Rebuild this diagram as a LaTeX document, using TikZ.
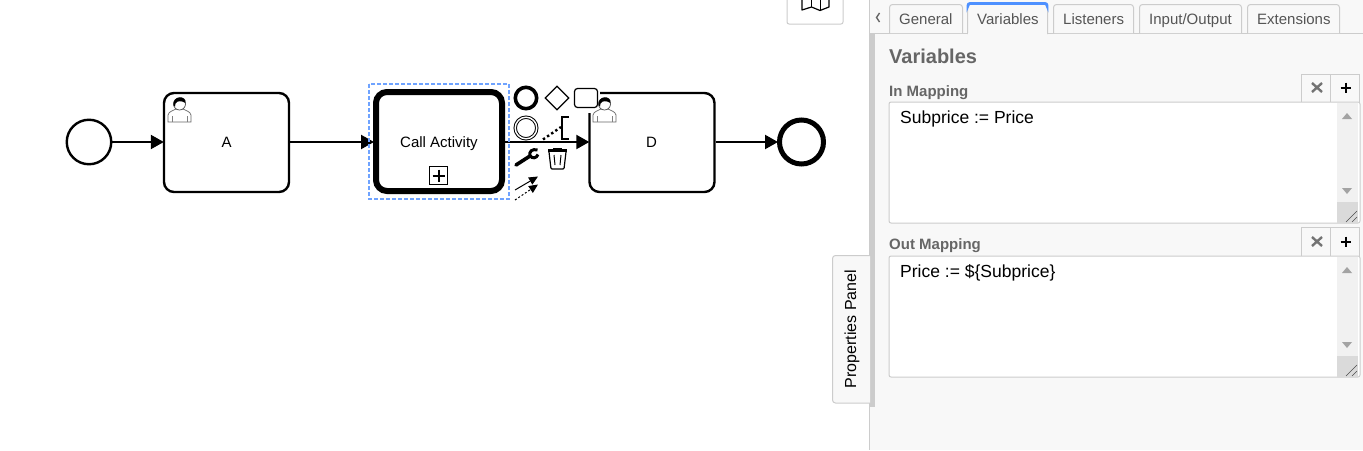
\documentclass[tikz,border=0pt]{standalone}
\usepackage{fontspec}
\setmainfont{Liberation Sans}
\usetikzlibrary{arrows.meta,shapes.geometric}
\definecolor{panelbg}{HTML}{F8F8F8}
\definecolor{panelline}{HTML}{CCCCCC}
\definecolor{tabtext}{HTML}{555555}
\definecolor{headtext}{HTML}{666666}
\definecolor{selblue}{HTML}{6FA3FF}
\definecolor{tabblue}{HTML}{4D90FF}
\definecolor{scrollbg}{HTML}{F1F1F1}
\definecolor{gripbg}{HTML}{DADADA}
\definecolor{arrowgray}{HTML}{A3A3A3}
\newcommand{\fsz}[1]{\fontsize{#1}{#1}\selectfont}
\tikzset{
  event/.style={circle,draw=black,fill=white,line width=2.4pt,minimum size=44.5pt,inner sep=0pt},
  endevent/.style={circle,draw=black,fill=white,line width=5pt,minimum size=44pt,inner sep=0pt},
  taskbox/.style={rectangle,rounded corners=10pt,draw=black,fill=white,line width=2.4pt,minimum width=125pt,minimum height=99pt,inner sep=0pt},
  callbox/.style={taskbox,line width=6pt,minimum width=126pt,minimum height=99pt,rounded corners=11pt},
  flow/.style={line width=2.2pt,draw=black,-{Triangle[length=13pt,width=14pt]},shorten >=-1pt},
  tasklabel/.style={anchor=base,inner sep=0pt,text=black,font=\fsz{15}},
  tabbox/.style={draw=panelline,fill=panelbg,line width=1pt,rounded corners=3pt},
  tablabel/.style={anchor=base west,inner sep=0pt,text=tabtext,font=\fsz{15}},
  fieldhead/.style={anchor=base west,inner sep=0pt,text=headtext,font=\bfseries\fsz{15}},
  fieldtext/.style={anchor=base west,inner sep=0pt,text=black,font=\fsz{17.5}},
  fieldbox/.style={rectangle,draw=panelline,fill=white,line width=1pt,rounded corners=2pt,minimum width=471pt,minimum height=121pt,inner sep=0pt},
  usericon/.pic={
    \draw[line width=.7pt,draw=black!60,fill=white] (0,25) -- (0,18) .. controls (1,14) and (5,14) .. (8,12) -- (15,12) .. controls (18,14) and (22,14) .. (23,18) -- (23,25) -- cycle;
    \draw[line width=.6pt,draw=black!50] (4,19) -- (4,25) (19,19) -- (19,25);
    \draw[line width=.7pt,draw=black!70,fill=white] (11.5,7) circle[radius=6pt];
    \fill[black] (5.5,8.5) .. controls (4,-2) and (19,-2) .. (17.5,6) .. controls (14,3.5) and (9,3.5) .. (7.5,6.5) -- (7,9.5) -- cycle;
  },
  scrollpart/.pic={
    \fill[scrollbg] (0,0) rectangle (21,120);
    \fill[arrowgray] (5,16) -- (15,16) -- (10,10) -- cycle;
    \fill[arrowgray] (5,85) -- (15,85) -- (10,91) -- cycle;
    \fill[gripbg] (0,99) rectangle (21,120);
    \draw[line width=.6pt,black!70] (9,119) -- (20,108) (15,119) -- (20,114);
  },
  xplus/.pic={
    \draw[line width=2.4pt,draw=black!55] (11,10) -- (21,19) (21,10) -- (11,19);
    \draw[line width=2pt,draw=black] (39.5,14.5) -- (49.5,14.5) (44.5,9.5) -- (44.5,19.5);
  },
}
\begin{document}
\begin{tikzpicture}[x=1pt,y=-1pt]
\useasboundingbox (0,0) rectangle (1363,450);
\fill[white] (0,0) rectangle (1363,450);

% diagram
\node[event] (start) at (89,142) {};
\node[taskbox] (a) at (226.5,142.5) {};
\node[callbox] (call) at (439,141.5) {};
\node[taskbox] (d) at (652,142.5) {};
\node[endevent] (end) at (801.5,142) {};
\draw[flow] (start) -- (a.west |- start);
\draw[flow] (a.east |- start) -- (call.west |- start);
\draw[flow] (call.east |- start) -- (d.west |- start);
\draw[flow] (d.east |- start) -- (end);
\node[tasklabel] (alabel) at (226.5,147) {A};
\node[tasklabel] (dlabel) at (651.5,147) {D};
\node[tasklabel] (calllabel) at (439,147) {Call Activity};
\pic at (168,97) {usericon};
\node[rectangle,draw=black,fill=white,line width=1.2pt,minimum size=18pt,inner sep=0pt] (marker) at (438.5,175.5) {};
\draw[line width=2pt] (432.5,175.5) -- (444.5,175.5) (438.5,169.5) -- (438.5,181.5);

% selection outline
\draw[selblue,line width=1.1pt,dash pattern=on 4pt off 2pt] (369,84) rectangle (509,199);

% context pad
\fill[white] (572,85) rectangle (600,112.5);
\pic at (593,97) {usericon};
\node[circle,draw=black,line width=3.6pt,minimum size=21.4pt,inner sep=0pt] (padend) at (526,98) {};
\node[diamond,draw=black,line width=1.2pt,minimum width=24pt,minimum height=24pt,inner sep=0pt,fill=white] (padgate) at (557,98) {};
\node[rectangle,rounded corners=3pt,draw=black,line width=1.2pt,fill=white,minimum width=23pt,minimum height=19pt,inner sep=0pt] (padtask) at (586,98) {};
\node[circle,draw=black,line width=1pt,double=white,double distance=1.4pt,minimum size=21.6pt,inner sep=0pt] (padinter) at (526,128) {};
\coordinate (brtop) at (569,117);
\coordinate (brbot) at (569,139);
\coordinate (dota) at (543,139.5);
\coordinate (dotb) at (561,127);
\draw[line width=1.2pt] (brtop) -- (562,117) -- (562,139) -- (brbot);
\draw[line width=2.4pt,dash pattern=on 2.4pt off 2.6pt] (dota) -- (dotb);
% wrench
\draw[line width=3.6pt,line cap=round] (516,165) -- (530,156);
\draw[line width=3pt] (537.5,150) .. controls (532,148.5) and (529,151.5) .. (530,155.5) .. controls (532,159) and (536.5,158.5) .. (538,154.5);
% trash
\draw[line width=1.2pt,rounded corners=1pt] (549,152) -- (551,169) -- (564,169) -- (566,152);
\draw[line width=2.2pt] (548,150.5) -- (567,150.5);
\draw[line width=2pt] (553,148.5) -- (562,148.5);
\draw[line width=1pt] (554,155) -- (555,165) (561,155) -- (560,165);
% connect tools
\coordinate (cta) at (515,190);
\coordinate (ctb) at (538,176.5);
\coordinate (ctc) at (515,200);
\coordinate (ctd) at (538,184.5);
\draw[line width=1pt,-{Triangle[length=9pt,width=8pt]}] (cta) -- (ctb);
\draw[line width=1pt,dash pattern=on 2pt off 2pt,-{Triangle[length=9pt,width=8pt]}] (ctc) -- (ctd);

% map button
\draw[panelline,line width=1pt,fill=white,rounded corners=2pt] (787,-3) -- (787,24) -- (843,24) -- (843,-3);
\draw[line width=1.2pt,line join=round] (802,0) -- (802,10) -- (811.5,7) -- (820,10.5) -- (829,7) -- (829,0);
\draw[line width=1pt] (811.5,0) -- (811.5,7) (820,0) -- (820,10.5);

% properties panel
\fill[panelbg] (870,0) rectangle (1363,450);
\draw[panelline,line width=1pt] (869.5,0) -- (869.5,450);
\fill[panelline] (870,34) rectangle (875,407);
\draw[tabbox,fill=panelbg] (870,403) -- (832.5,403) -- (832.5,255.5) -- (870,255.5);
\node[anchor=base west,inner sep=0pt,rotate=90,text=black,font=\fsz{16}] (proplabel) at (856,388.5) {Properties Panel};

% tab strip
\draw[panelline,line width=1pt] (870,33.5) -- (1363,33.5);
\draw[line width=1.4pt,draw=headtext] (879.5,13) -- (876.5,17.5) -- (879.5,22);
\draw[tabbox] (889.5,33) -- (889.5,4.5) -- (962.5,4.5) -- (962.5,33);
\node[tablabel] (tgen) at (899,24) {General};
\draw[tabbox,fill=panelbg] (967.5,34) -- (967.5,4) -- (1047.5,4) -- (1047.5,34);
\fill[panelbg] (968,33) rectangle (1047,35);
\draw[tabblue,line width=2.8pt,rounded corners=2pt] (968,5) -- (968,3.5) -- (1047,3.5) -- (1047,5);
\node[tablabel] (tvar) at (977,24) {Variables};
\draw[tabbox] (1053.5,33) -- (1053.5,4.5) -- (1133.5,4.5) -- (1133.5,33);
\node[tablabel] (tlis) at (1063,24) {Listeners};
\draw[tabbox] (1139.5,33) -- (1139.5,4.5) -- (1241.5,4.5) -- (1241.5,33);
\node[tablabel] (tio) at (1149,24) {Input/Output};
\draw[tabbox] (1247.5,33) -- (1247.5,4.5) -- (1339.5,4.5) -- (1339.5,33);
\node[tablabel] (text) at (1257,24) {Extensions};

% fields
\node[anchor=base west,inner sep=0pt,text=headtext,font=\bfseries\fsz{20}] (title) at (889,63.5) {Variables};
\node[fieldhead] (inhead) at (889,96) {In Mapping};
\node[fieldbox] (inbox) at (1124.5,162.5) {};
\node[fieldtext] (intext) at (900,123) {Subprice := Price};
\pic at (1337,103) {scrollpart};
\draw[panelline,line width=1pt] (1301.5,102) -- (1301.5,74.5) -- (1359.5,74.5) -- (1359.5,102) (1330.5,74.5) -- (1330.5,102);
\pic at (1301,73) {xplus};
\node[fieldhead] (outhead) at (889,249) {Out Mapping};
\node[fieldbox] (outbox) at (1124.5,316.5) {};
\node[fieldtext] (outtext) at (900,277) {Price := \$\{Subprice\}};
\pic at (1337,257) {scrollpart};
\draw[panelline,line width=1pt] (1301.5,256) -- (1301.5,227.5) -- (1359.5,227.5) -- (1359.5,256) (1330.5,227.5) -- (1330.5,256);
\pic at (1301,227) {xplus};
\end{tikzpicture}
\end{document}
